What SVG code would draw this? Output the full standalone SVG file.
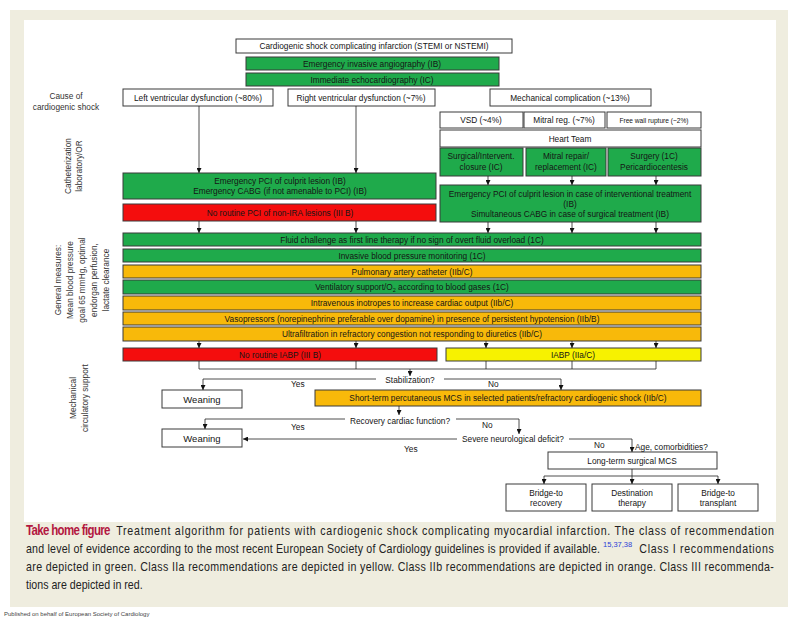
<svg xmlns="http://www.w3.org/2000/svg" width="800" height="621" viewBox="0 0 800 621">
<defs>
<marker id="ah" viewBox="0 0 6 6" refX="6" refY="3" markerWidth="5" markerHeight="5" markerUnits="userSpaceOnUse" orient="auto">
<path d="M0,0 L6,3 L0,6 z" fill="#111"/>
</marker>
<style>
.b{stroke:#3a3a3a;stroke-width:1}
.w{fill:#fff}
.g{fill:#1faa4b}
.o{fill:#f8b90a}
.y{fill:#f7f200}
.r{fill:#f40d0d}
text{font-family:"Liberation Sans",Arial,sans-serif;font-size:8.3px;fill:#151515}
.c{text-anchor:middle}
.lab{fill:#333}
.cn{fill:none;stroke:#222;stroke-width:0.8}
.ar{marker-end:url(#ah)}
.cap{font-size:13px;fill:#222}
</style>
</defs>
<rect x="0" y="0" width="800" height="621" fill="#fff"/>
<rect x="10" y="10" width="778" height="597" fill="#efeddf"/>
<rect x="24" y="20" width="752" height="502" fill="#fff"/>

<g id="side-labels">
<text class="c lab" x="66" y="99">Cause of</text>
<text class="c lab" x="66" y="110">cardiogenic shock</text>
<g transform="translate(74,166) rotate(-90)"><text class="c lab" x="0" y="-3">Catheterization</text><text class="c lab" x="0" y="8">laboratory/OR</text></g>
<g transform="translate(82,280) rotate(-90)">
<text class="c lab" x="0" y="-21">General measures:</text>
<text class="c lab" x="0" y="-9">Mean blood pressure</text>
<text class="c lab" x="0" y="3">goal 65 mmHg,  optimal</text>
<text class="c lab" x="0" y="15">endorgan perfusion,</text>
<text class="c lab" x="0" y="27">lactate clearance</text>
</g>
<g transform="translate(79,398) rotate(-90)"><text class="c lab" x="0" y="-3">Mechanical</text><text class="c lab" x="0" y="9">circulatory support</text></g>
</g>

<g id="n-top"><rect class="b w" x="236" y="39" width="276" height="14"/><text class="c" x="374" y="49">Cardiogenic shock complicating infarction (STEMI or NSTEMI)</text></g>
<g id="n-angio"><rect class="b g" x="246" y="57" width="253" height="13"/><text class="c" x="372" y="66.5">Emergency invasive angiography (IB)</text></g>
<g id="n-echo"><rect class="b g" x="246" y="73" width="253" height="13"/><text class="c" x="372" y="82.5">Immediate echocardiography (IC)</text></g>
<g id="n-lv"><rect class="b w" x="123" y="89" width="150" height="17"/><text class="c" x="198" y="100.5">Left ventricular  dysfunction (~80%)</text></g>
<g id="n-rv"><rect class="b w" x="288" y="89" width="147" height="17"/><text class="c" x="361" y="100.5">Right ventricular dysfunction (~7%)</text></g>
<g id="n-mech"><rect class="b w" x="490" y="89" width="161" height="17"/><text class="c" x="570" y="100.5">Mechanical complication (~13%)</text></g>
<g id="n-vsd"><rect class="b w" x="440" y="112" width="83" height="16"/><text class="c" x="481" y="123">VSD (~4%)</text></g>
<g id="n-mitral"><rect class="b w" x="524" y="112" width="81" height="16"/><text class="c" x="564" y="123">Mitral reg. (~7%)</text></g>
<g id="n-fwr"><rect class="b w" x="607" y="112" width="94" height="16"/><text class="c" x="654" y="122.5" style="font-size:6.6px">Free wall rupture (~2%)</text></g>
<g id="n-team"><rect class="b w" x="440" y="130" width="261" height="17"/><text class="c" x="570" y="141.5">Heart Team</text></g>
<g id="n-surg"><rect class="b g" x="440" y="148" width="83" height="28"/><text class="c" x="481" y="159">Surgical/Intervent.</text><text class="c" x="481" y="170">closure (IC)</text></g>
<g id="n-repair"><rect class="b g" x="526" y="148" width="80" height="28"/><text class="c" x="566" y="159">Mitral repair/</text><text class="c" x="566" y="170">replacement (IC)</text></g>
<g id="n-peri"><rect class="b g" x="608" y="148" width="93" height="28"/><text class="c" x="654" y="159">Surgery (1C)</text><text class="c" x="654" y="170">Pericardiocentesis</text></g>
<g id="n-pci-left"><rect class="b g" x="123" y="173" width="313" height="26"/><text class="c" x="280" y="184">Emergency PCI of culprit lesion (IB)</text><text class="c" x="280" y="194">Emergency CABG (if not amenable to PCI) (IB)</text></g>
<g id="n-noira"><rect class="b r" x="123" y="204" width="313" height="17"/><text class="c" x="280" y="215.5">No routine PCI of non-IRA lesions (III B)</text></g>
<g id="n-pci-right"><rect class="b g" x="440" y="185" width="261" height="37"/><text class="c" x="570" y="197">Emergency PCI of culprit lesion in case of interventional  treatment</text><text class="c" x="570" y="207">(IB)</text><text class="c" x="570" y="217">Simultaneous CABG in case of surgical treatment (IB)</text></g>

<g id="n-fluid"><rect class="b g" x="123" y="233" width="578" height="13"/><text class="c" x="412" y="242.5">Fluid challenge as first line therapy if no sign of overt fluid overload (1C)</text></g>
<g id="n-ibp"><rect class="b g" x="123" y="249" width="578" height="13"/><text class="c" x="412" y="258.5">Invasive blood pressure monitoring (1C)</text></g>
<g id="n-pac"><rect class="b o" x="123" y="265" width="578" height="13"/><text class="c" x="412" y="274.5">Pulmonary artery catheter (IIb/C)</text></g>
<g id="n-vent"><rect class="b g" x="123" y="280" width="578" height="14"/><text class="c" x="412" y="290">Ventilatory support/O<tspan style="font-size:5.5px" dy="2">2</tspan><tspan dy="-2"> according to blood gases (1C)</tspan></text></g>
<g id="n-ino"><rect class="b o" x="123" y="296" width="578" height="14"/><text class="c" x="412" y="306">Intravenous inotropes to increase cardiac output (IIb/C)</text></g>
<g id="n-vaso"><rect class="b o" x="123" y="312" width="578" height="13"/><text class="c" x="412" y="321.5">Vasopressors (norepinephrine preferable over dopamine) in presence of persistent hypotension (IIb/B)</text></g>
<g id="n-uf"><rect class="b o" x="123" y="327" width="578" height="14"/><text class="c" x="412" y="337">Ultrafiltration  in refractory congestion not responding to diuretics (IIb/C)</text></g>
<g id="n-noiabp"><rect class="b r" x="123" y="348" width="314" height="13"/><text class="c" x="280" y="357.5">No routine IABP (III B)</text></g>
<g id="n-iabp"><rect class="b y" x="446" y="348" width="255" height="13"/><text class="c" x="573" y="357.5">IABP (IIa/C)</text></g>

<g id="n-weaning1"><rect class="b w" x="162" y="390" width="80" height="18"/><text class="c" x="202" y="402.5" style="font-size:9.5px">Weaning</text></g>
<g id="n-mcs"><rect class="b o" x="315" y="390" width="386" height="16"/><text class="c" x="508" y="401">Short-term percutaneous MCS  in  selected patients/refractory cardiogenic shock (IIb/C)</text></g>
<g id="n-weaning2"><rect class="b w" x="162" y="429" width="80" height="18"/><text class="c" x="202" y="441.5" style="font-size:9.5px">Weaning</text></g>
<g id="n-ltmcs"><rect class="b w" x="548" y="452" width="169" height="17"/><text class="c" x="632" y="463.5">Long-term surgical MCS</text></g>
<g id="n-btr"><rect class="b w" x="506" y="484" width="80" height="27"/><text class="c" x="546" y="495.5">Bridge-to</text><text class="c" x="546" y="505.5">recovery</text></g>
<g id="n-dt"><rect class="b w" x="592" y="484" width="80" height="27"/><text class="c" x="632" y="495.5">Destination</text><text class="c" x="632" y="505.5">therapy</text></g>
<g id="n-btt"><rect class="b w" x="678" y="484" width="80" height="27"/><text class="c" x="718" y="495.5">Bridge-to</text><text class="c" x="718" y="505.5">transplant</text></g>

<g id="decisions">
<text class="c" x="410" y="383">Stabilization?</text>
<text class="c" x="400" y="424">Recovery cardiac function?</text>
<text class="c" x="513" y="442">Severe neurological deficit?</text>
<text x="635" y="450">Age, comorbidities?</text>
</g>

<g id="connectors">
<path class="cn ar" d="M199,106 V173"/>
<path class="cn ar" d="M356,106 V173"/>
<path class="cn ar" d="M488,176 V185"/>
<path class="cn ar" d="M572,176 V185"/>
<path class="cn ar" d="M656,176 V185"/>
<path class="cn ar" d="M199,221 V233"/>
<path class="cn ar" d="M356,221 V233"/>
<path class="cn ar" d="M488,222 V233"/>
<path class="cn ar" d="M572,222 V233"/>
<path class="cn ar" d="M656,222 V233"/>
<path class="cn ar" d="M199,341 V348"/>
<path class="cn ar" d="M356,341 V348"/>
<path class="cn ar" d="M486,341 V348"/>
<path class="cn ar" d="M572,341 V348"/>
<path class="cn ar" d="M656,341 V348"/>
<path class="cn" d="M199,361 V369 H656 M356,361 V369 M486,361 V369 M572,361 V369 M656,361 V369"/>
<path class="cn ar" d="M410,369 V376"/>
<path class="cn ar" d="M376,379 H203 V390"/>
<path class="cn ar" d="M444,379 H561 V390"/>
<path class="cn ar" d="M399,406 V415"/>
<path class="cn ar" d="M345,419 H205 V429"/>
<path class="cn ar" d="M456,419 H519 V434"/>
<path class="cn ar" d="M457,439 H243"/>
<path class="cn ar" d="M569,439 H632 V452"/>
<path class="cn" d="M632,469 V476 M544,476 H718"/>
<path class="cn ar" d="M544,476 V484"/>
<path class="cn ar" d="M632,476 V484"/>
<path class="cn ar" d="M718,476 V484"/>
<text x="291" y="387">Yes</text>
<text x="488" y="387">No</text>
<text x="291" y="430">Yes</text>
<text x="482" y="428">No</text>
<text x="404" y="452">Yes</text>
<text x="594" y="448">No</text>
</g>

<g id="caption">
<g transform="translate(26,0) scale(0.82,1)">
<text class="cap" x="0" y="535" textLength="103" lengthAdjust="spacing" style="font-weight:bold;fill:#b3173f;font-size:14px">Take home figure</text>
<text class="cap" x="110" y="535" textLength="802" lengthAdjust="spacing">Treatment algorithm for patients with cardiogenic shock complicating myocardial infarction. The class of recommendation</text>
<text class="cap" x="0" y="553" textLength="700" lengthAdjust="spacing">and level of evidence according to the most recent European Society of Cardiology guidelines is provided if available.</text>
<text class="cap" x="748" y="553" textLength="164" lengthAdjust="spacing">Class I recommendations</text>
<text class="cap" x="0" y="571" textLength="912" lengthAdjust="spacing">are depicted in green. Class IIa recommendations are depicted in yellow. Class IIb recommendations are depicted in orange. Class III recommenda-</text>
<text class="cap" x="0" y="589">tions are depicted in red.</text>
</g>
<text x="603" y="547" style="font-size:7.5px;fill:#2b3fd6">15,37,38</text>
</g>
<text x="4" y="616" style="font-size:6px;fill:#444">Published on behalf of European Society of Cardiology</text>
</svg>
